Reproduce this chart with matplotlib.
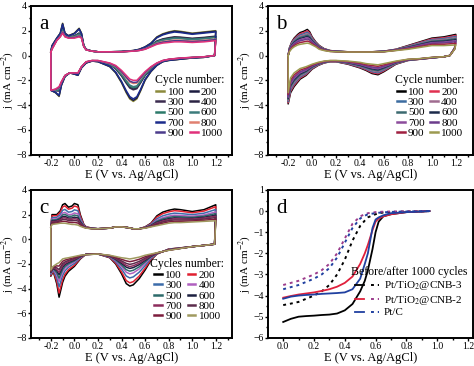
import numpy as np
import matplotlib
matplotlib.use('Agg')
import matplotlib.pyplot as plt
from matplotlib.legend_handler import HandlerTuple

plt.rcParams['font.family'] = ['Liberation Serif', 'DejaVu Serif']
plt.rcParams['mathtext.fontset'] = 'stix'

cycles = ['100', '200', '300', '400', '500', '600', '700', '800', '900', '1000']

# panel a: first (100) and last (1000) cycle, anodic and cathodic sweeps
Ea_up = [-0.2, -0.19, -0.15, -0.12, -0.1, -0.08, -0.05, 0.0, 0.04, 0.06, 0.08, 0.1, 0.15, 0.2, 0.3, 0.4,
         0.5, 0.55, 0.6, 0.65, 0.7, 0.75, 0.8, 0.85, 0.9, 1.0, 1.1, 1.2]
a100_up = [0.3, 0.8, 1.4, 1.8, 2.6, 1.8, 1.6, 1.8, 2.2, 1.8, 0.8, 0.5, 0.35, 0.3, 0.3, 0.32,
           0.4, 0.5, 0.7, 1.0, 1.5, 1.75, 1.9, 2.0, 1.95, 1.8, 1.9, 2.0]
a1000_up = [0.3, 0.5, 1.2, 1.5, 1.8, 1.5, 1.4, 1.4, 1.5, 1.4, 0.7, 0.45, 0.35, 0.3, 0.3, 0.3,
            0.35, 0.4, 0.5, 0.7, 0.9, 1.0, 1.05, 1.1, 1.1, 1.05, 1.1, 1.2]
Ea_dn = [1.2, 1.19, 1.1, 1.0, 0.9, 0.8, 0.75, 0.7, 0.65, 0.6, 0.56, 0.53, 0.5, 0.47, 0.44, 0.4, 0.35,
         0.3, 0.2, 0.15, 0.1, 0.06, 0.03, 0.0, -0.04, -0.08, -0.11, -0.13, -0.16, -0.2]
a100_dn = [2.0, 0.0, -0.15, -0.2, -0.3, -0.4, -0.5, -0.8, -1.3, -2.0, -2.9, -3.5, -3.7, -3.5, -3.0, -2.2, -1.4,
           -0.9, -0.5, -0.45, -0.6, -1.0, -1.6, -1.5, -1.4, -1.7, -2.4, -3.3, -3.0, -2.8]
a1000_dn = [1.2, 0.0, -0.1, -0.15, -0.2, -0.3, -0.4, -0.6, -0.9, -1.3, -1.7, -2.0, -2.0, -1.9, -1.6, -1.2, -0.8,
            -0.6, -0.4, -0.4, -0.5, -0.9, -1.4, -1.4, -1.4, -1.6, -2.1, -2.5, -2.7, -2.8]
wa = [0.0, 0.05, 0.55, 0.6, 0.65, 0.7, 0.12, 0.85, 0.9, 1.0]
cols_a = ['#8c8a3c', '#1c1c40', '#3c2c50', '#2c2444', '#2c7a6a', '#3c7c7c',
          '#1c2c8c', '#e08070', '#4c3c8c', '#e0307a']

# panel b
Eb_up = [-0.2, -0.19, -0.17, -0.15, -0.12, -0.1, -0.07, -0.04, -0.02, 0.0, 0.03, 0.06, 0.1, 0.15, 0.2,
         0.3, 0.4, 0.5, 0.6, 0.7, 0.8, 0.9, 1.0, 1.1, 1.2]
b100_up = [0.0, 0.6, 1.1, 1.4, 1.7, 1.85, 1.95, 2.1, 1.9, 1.5, 1.1, 0.8, 0.55, 0.4, 0.35,
           0.3, 0.3, 0.3, 0.35, 0.5, 0.8, 1.1, 1.4, 1.5, 1.7]
b1000_up = [0.0, 0.3, 0.55, 0.7, 0.85, 0.9, 0.95, 1.0, 0.95, 0.85, 0.7, 0.5, 0.4, 0.32, 0.3,
            0.28, 0.28, 0.28, 0.3, 0.4, 0.5, 0.65, 0.8, 0.8, 0.85]
Eb_dn = [1.2, 1.19, 1.15, 1.1, 1.0, 0.9, 0.8, 0.7, 0.65, 0.6, 0.55, 0.5, 0.45, 0.4, 0.3, 0.2, 0.15,
         0.1, 0.05, 0.0, -0.05, -0.1, -0.15, -0.18, -0.2]
b100_dn = [1.7, 0.6, 0.0, -0.1, -0.2, -0.3, -0.4, -0.7, -1.0, -1.3, -1.55, -1.45, -1.2, -1.0, -0.7, -0.5, -0.5,
           -0.6, -0.8, -1.1, -1.6, -1.9, -2.5, -3.0, -3.9]
b1000_dn = [0.85, 0.5, 0.0, -0.1, -0.15, -0.25, -0.3, -0.45, -0.55, -0.65, -0.75, -0.7, -0.65, -0.55, -0.45, -0.4, -0.4,
            -0.45, -0.55, -0.7, -0.9, -1.05, -1.4, -1.8, -3.0]
wb = [0.0, 0.1, 0.2, 0.3, 0.4, 0.5, 0.6, 0.7, 0.85, 1.0]
cols_b = ['#000000', '#e03050', '#3c6ca0', '#a06c90', '#3c6a70', '#1c2a4a',
          '#8c4c9c', '#6c3c8c', '#a02040', '#9c9a50']

# panel c
Ec_up = [-0.2, -0.19, -0.15, -0.12, -0.1, -0.08, -0.05, -0.02, 0.0, 0.03, 0.05, 0.08, 0.1, 0.15, 0.2, 0.3,
         0.35, 0.4, 0.45, 0.5, 0.55, 0.6, 0.65, 0.7, 0.75, 0.8, 0.85, 0.9, 1.0, 1.1, 1.2]
c100_up = [1.0, 2.0, 2.0, 2.3, 2.8, 2.9, 2.6, 2.7, 2.9, 2.8, 2.0, 1.2, 1.0, 0.9, 0.85, 0.9,
           1.0, 1.0, 0.95, 0.85, 0.85, 1.0, 1.3, 1.9, 2.2, 2.35, 2.45, 2.4, 2.25, 2.4, 2.8]
c1000_up = [1.0, 1.2, 1.25, 1.3, 1.3, 1.3, 1.25, 1.2, 1.2, 1.15, 1.05, 0.95, 0.9, 0.85, 0.85, 0.9,
            1.0, 1.0, 0.95, 0.85, 0.85, 0.9, 1.0, 1.1, 1.2, 1.3, 1.35, 1.35, 1.4, 1.45, 1.5]
Ec_dn = [1.2, 1.19, 1.1, 1.0, 0.9, 0.8, 0.7, 0.65, 0.6, 0.55, 0.5, 0.47, 0.44, 0.4, 0.35, 0.3, 0.2,
         0.1, 0.05, 0.0, -0.05, -0.08, -0.1, -0.12, -0.13, -0.15, -0.18, -0.2]
c100_dn = [2.8, -0.4, -0.5, -0.6, -0.7, -0.8, -1.2, -1.7, -2.5, -3.2, -3.7, -3.8, -3.6, -2.8, -2.0, -1.5, -1.2,
           -1.2, -1.6, -2.2, -2.6, -3.0, -3.5, -4.3, -4.7, -3.6, -2.6, -3.0]
c1000_dn = [1.5, -0.4, -0.5, -0.6, -0.75, -0.9, -1.1, -1.2, -1.3, -1.45, -1.55, -1.6, -1.55, -1.5, -1.4, -1.3, -1.2,
            -1.25, -1.3, -1.4, -1.5, -1.55, -1.6, -1.8, -1.9, -2.0, -2.2, -2.5]
wc = [0.0, 0.12, 0.3, 0.45, 0.55, 0.65, 0.72, 0.8, 0.9, 1.0]
cols_c = ['#000000', '#e02030', '#3c6caa', '#b060c0', '#2c6a6a', '#1c2040',
          '#8c2c5c', '#5c2c4c', '#7c1c3c', '#a09a60']

# panel d: LSV before (solid) / after (dotted) 1000 cycles
Ed = [0.0, 0.05, 0.1, 0.15, 0.2, 0.25, 0.3, 0.35, 0.4, 0.45, 0.5, 0.53, 0.55, 0.58, 0.6, 0.62, 0.65,
      0.7, 0.8, 0.9, 0.95]
cnb3_before = [-5.25, -5.1, -5.0, -4.97, -4.95, -4.92, -4.9, -4.85, -4.7, -4.4, -3.8, -3.3, -2.8, -1.8, -1.0, -0.5, -0.25,
               -0.15, -0.05, -0.02, 0.0]
cnb3_after = [-4.45, -4.38, -4.3, -4.15, -4.0, -3.8, -3.5, -3.0, -2.3, -1.4, -0.7, -0.45, -0.3, -0.2, -0.15, -0.1, -0.07,
              -0.05, -0.02, -0.01, 0.0]
cnb2_before = [-4.1, -4.02, -3.95, -3.9, -3.85, -3.78, -3.7, -3.58, -3.4, -3.1, -2.5, -2.0, -1.6, -0.9, -0.5, -0.35, -0.25,
               -0.15, -0.05, -0.02, 0.0]
cnb2_after = [-3.5, -3.4, -3.3, -3.15, -3.0, -2.8, -2.5, -2.0, -1.3, -0.6, -0.25, -0.15, -0.1, -0.07, -0.05, -0.04, -0.03,
              -0.02, -0.01, 0.0, 0.0]
ptc_before = [-4.15, -4.05, -4.0, -3.97, -3.95, -3.92, -3.9, -3.88, -3.85, -3.7, -3.2, -2.5, -2.0, -0.8, -0.4, -0.3, -0.2,
              -0.1, -0.05, -0.02, 0.0]
ptc_after = [-3.7, -3.6, -3.5, -3.35, -3.2, -3.0, -2.7, -2.2, -1.5, -0.8, -0.35, -0.22, -0.15, -0.12, -0.1, -0.08, -0.06,
             -0.04, -0.02, -0.01, 0.0]

fig = plt.figure(figsize=(4.74, 3.66), dpi=100)
boxes = {'a': [0.065, 0.577, 0.425, 0.407], 'b': [0.565, 0.577, 0.432, 0.407],
         'c': [0.065, 0.077, 0.425, 0.404], 'd': [0.565, 0.077, 0.432, 0.404]}
axs = {k: fig.add_axes(v) for k, v in boxes.items()}

# legend reads row by row: 100 200 / 300 400 / ...
leg_order = [0, 2, 4, 6, 8, 1, 3, 5, 7, 9]


def cv_panel(ax, E_up, up0, up1, E_dn, dn0, dn1, weights, colors, title):
    E = np.concatenate([E_up, E_dn, [E_up[0]]])
    lines = []
    for w, col, lab in zip(weights, colors, cycles):
        up = (1 - w) * np.array(up0) + w * np.array(up1)
        dn = (1 - w) * np.array(dn0) + w * np.array(dn1)
        j = np.concatenate([up, dn, [up[0]]])
        ln, = ax.plot(E, j, color=col, lw=1.1, label=lab)
        lines.append(ln)
    ax.set_xlim(-0.37, 1.34)
    ax.set_ylim(-8, 4)
    ax.set_xticks(np.arange(-0.2, 1.21, 0.2))
    ax.set_xticks(np.arange(-0.3, 1.31, 0.1), minor=True)
    ax.set_yticks(np.arange(-8, 5, 2))
    ax.set_yticks(np.arange(-8, 5, 1), minor=True)
    ax.xaxis.set_major_formatter(plt.FuncFormatter(lambda v, p: '%.1f' % v))
    leg = ax.legend([lines[i] for i in leg_order], [cycles[i] for i in leg_order],
                    loc='lower right', ncol=2, frameon=False, fontsize=8, title=title,
                    title_fontsize=8.5, handlelength=0.7, handletextpad=0.3, columnspacing=0.5,
                    labelspacing=0.05, borderaxespad=0.3, bbox_to_anchor=(1.0, 0.06))
    for h in leg.legend_handles:
        h.set_linewidth(1.8)


cv_panel(axs['a'], Ea_up, a100_up, a1000_up, Ea_dn, a100_dn, a1000_dn, wa, cols_a, 'Cycle number:')
cv_panel(axs['b'], Eb_up, b100_up, b1000_up, Eb_dn, b100_dn, b1000_dn, wb, cols_b, 'Cycle number:')
cv_panel(axs['c'], Ec_up, c100_up, c1000_up, Ec_dn, c100_dn, c1000_dn, wc, cols_c, 'Cycles number:')

ax = axs['d']
l1, = ax.plot(Ed, cnb3_before, color='black', lw=1.3)
l1d, = ax.plot(Ed, cnb3_after, color='black', lw=1.4, ls=(0, (1.5, 2)))
l2, = ax.plot(Ed, cnb2_before, color='#e0203c', lw=1.3)
l2d, = ax.plot(Ed, cnb2_after, color='#9c3c8c', lw=1.4, ls=(0, (1.5, 2)))
l3, = ax.plot(Ed, ptc_before, color='#2040a0', lw=1.3)
l3d, = ax.plot(Ed, ptc_after, color='#2040a0', lw=1.4, ls=(0, (1.5, 2)))
ax.set_xlim(-0.1, 1.23)
ax.set_ylim(-6, 1)
ax.set_xticks(np.arange(0, 1.21, 0.2))
ax.set_xticks(np.arange(0.1, 1.21, 0.2), minor=True)
ax.set_yticks(np.arange(-6, 2, 1))
ax.set_yticks(np.arange(-5.5, 1, 1), minor=True)
ax.xaxis.set_major_formatter(plt.FuncFormatter(lambda v, p: '%.1f' % v))
ax.legend([(l1, l1d), (l2, l2d), (l3, l3d)],
          ['Pt/TiO$_2$@CNB-3', 'Pt/TiO$_2$@CNB-2', 'Pt/C'],
          handler_map={tuple: HandlerTuple(ndivide=None, pad=0.6)},
          loc='lower right', frameon=False, fontsize=8, title='Before/after 1000 cycles',
          title_fontsize=8.5, handlelength=2.2, handletextpad=0.4, labelspacing=0.1,
          borderaxespad=0.1, bbox_to_anchor=(1.0, 0.1))

for k, ax in axs.items():
    ax.tick_params(which='both', direction='out', labelsize=7, width=1, pad=0.5)
    ax.tick_params(which='major', length=2.5)
    ax.tick_params(which='minor', length=1.5)
    for s in ax.spines.values():
        s.set_linewidth(1.4)
    ax.set_xlabel('E (V vs. Ag/AgCl)', fontsize=9, labelpad=0.5)
    ax.set_ylabel('j (mA cm$^{-2}$)', fontsize=8)
    ax.yaxis.set_label_coords(-0.074, 0.5)
    ax.text(0.04, 0.94, k, transform=ax.transAxes, fontsize=15, va='top', ha='left')

fig.savefig('out.png', dpi=100)
